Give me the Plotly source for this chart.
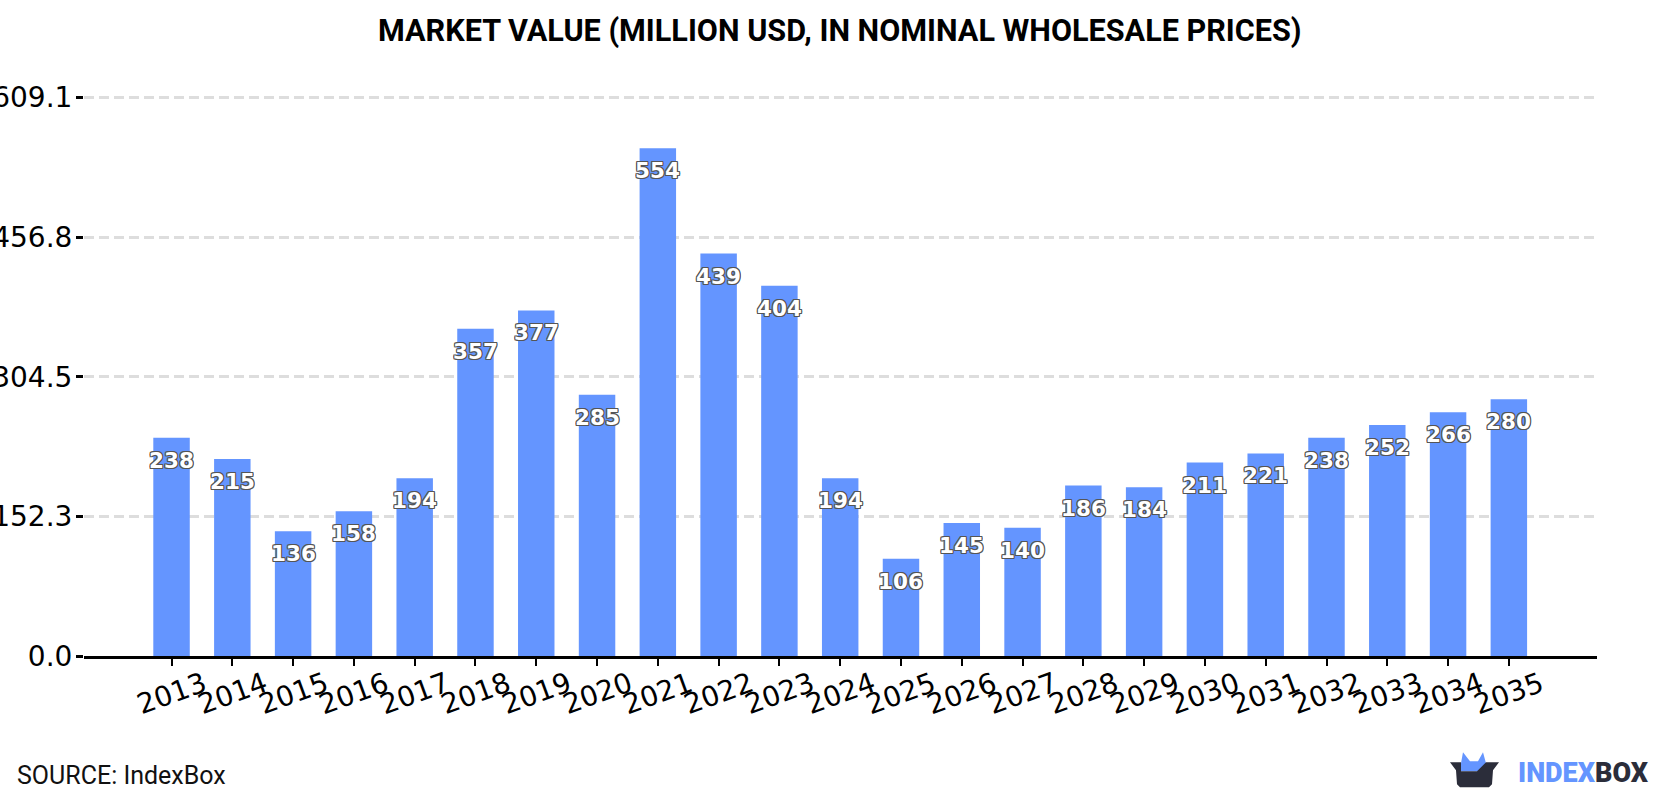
import plotly.graph_objects as go

WIDTH, HEIGHT = 1680, 800
PLOT_LEFT, PLOT_RIGHT, PLOT_TOP, PLOT_BOTTOM = 84, 1597, 94.7, 656.5

years = [2013, 2014, 2015, 2016, 2017, 2018, 2019, 2020, 2021, 2022, 2023, 2024,
         2025, 2026, 2027, 2028, 2029, 2030, 2031, 2032, 2033, 2034, 2035]
market_value = [238, 215, 136, 158, 194, 357, 377, 285, 554, 439, 404, 194,
                106, 145, 140, 186, 184, 211, 221, 238, 252, 266, 280]
y_ticks = [0.0, 152.3, 304.5, 456.8, 609.1]
y_tick_labels = ["0.0", "152.3", "304.5", "456.8", "609.1"]

BAR_BLUE = "#6495ff"
DARK = "#2b2d3a"


def px_x(x):
    return (x - PLOT_LEFT) / (PLOT_RIGHT - PLOT_LEFT)


def px_y(y):
    return (PLOT_BOTTOM - y) / (PLOT_BOTTOM - PLOT_TOP)


def polygon(points, color):
    path = "M " + " L ".join(f"{px_x(x):.5f},{px_y(y):.5f}" for x, y in points) + " Z"
    return dict(type="path", xref="paper", yref="paper", path=path,
                fillcolor=color, line=dict(width=0), layer="above")


outline = ",".join(f"{a}px {b}px 0px #555" for a, b in
                   [(1, 0), (-1, 0), (0, 1), (0, -1), (1, 1), (-1, -1), (1, -1), (-1, 1)])

fig = go.Figure(go.Bar(
    x=years,
    y=market_value,
    width=0.6,
    marker=dict(color=BAR_BLUE, line=dict(width=0)),
    hoverinfo="x+y",
))

annotations = [
    dict(text="MARKET VALUE (MILLION USD, IN NOMINAL WHOLESALE PRICES)",
         xref="paper", yref="paper", x=px_x(840), y=px_y(31),
         xanchor="center", yanchor="middle", showarrow=False,
         font=dict(family="Roboto", size=30.6, color="black", weight="bold")),
    dict(text="SOURCE: IndexBox", xref="paper", yref="paper", x=px_x(15), y=px_y(776),
         xanchor="left", yanchor="middle", showarrow=False,
         font=dict(family="Roboto", size=25, color="#111")),
    dict(text=f"<span style='color:{BAR_BLUE}'>INDEX</span><span style='color:{DARK}'>BOX</span>",
         xref="paper", yref="paper", x=px_x(1516), y=px_y(774),
         xanchor="left", yanchor="middle", showarrow=False,
         font=dict(family="Roboto", size=27, weight=900)),
]
# Year labels sit centred under their ticks, so they are placed individually.
for year in years:
    annotations.append(dict(text=str(year), xref="x", yref="paper", x=year, y=px_y(694),
                            xanchor="center", yanchor="middle", textangle=-20, showarrow=False,
                            font=dict(family="DejaVu Sans", size=28, color="black")))
# Value labels hang a fixed distance below each bar top and may overhang the bar.
for year, value in zip(years, market_value):
    annotations.append(dict(text=str(value), xref="x", yref="y", x=year, y=value,
                            xanchor="center", yanchor="middle", yshift=-22.5, showarrow=False,
                            font=dict(family="DejaVu Sans", size=21.5, color="white",
                                      weight="bold", shadow=outline)))

fig.update_layout(
    width=WIDTH,
    height=HEIGHT,
    autosize=False,
    margin=dict(l=PLOT_LEFT, r=WIDTH - PLOT_RIGHT, t=PLOT_TOP, b=HEIGHT - PLOT_BOTTOM,
                pad=0, autoexpand=False),
    paper_bgcolor="white",
    plot_bgcolor="white",
    showlegend=False,
    bargap=0.4,
    xaxis=dict(
        range=[years[0] - 1.44, years[-1] + 1.45],
        tickmode="array",
        tickvals=years,
        showticklabels=False,
        ticks="outside",
        ticklen=7,
        tickwidth=2,
        tickcolor="black",
        showline=True,
        linecolor="black",
        linewidth=3,
        showgrid=False,
        zeroline=False,
    ),
    yaxis=dict(
        range=[0, 612],
        automargin=False,
        tickmode="array",
        tickvals=y_ticks,
        ticktext=y_tick_labels,
        ticks="outside",
        ticklen=7,
        tickwidth=3,
        tickcolor="black",
        tickfont=dict(family="DejaVu Sans", size=28, color="black"),
        ticklabelstandoff=-2,
        showline=False,
        showgrid=True,
        gridcolor="#dddddd",
        gridwidth=3,
        griddash="10px,5px",
        zeroline=False,
    ),
    annotations=annotations,
    shapes=[
        polygon([(1461, 764), (1463, 753), (1470, 762), (1478, 762), (1483, 753), (1486, 764),
                 (1478, 772), (1461, 772)], BAR_BLUE),
        polygon([(1450, 763), (1461, 763), (1461, 772), (1477, 772), (1486, 763), (1499, 763),
                 (1493, 771), (1492, 785), (1489, 788), (1460, 788), (1457, 785), (1456, 771)], DARK),
    ],
)

fig.write_html("out.html", config=dict(displayModeBar=False))
